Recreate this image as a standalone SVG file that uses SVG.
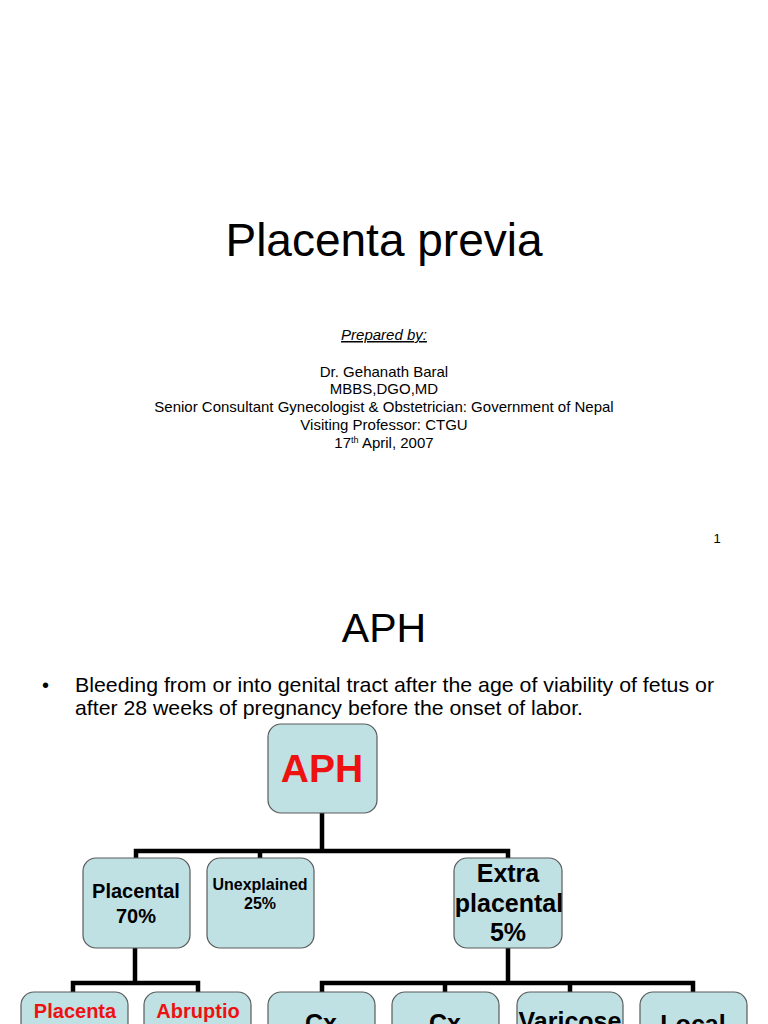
<svg xmlns="http://www.w3.org/2000/svg" width="768" height="1024" viewBox="0 0 768 1024">
<style>
text{font-family:"Liberation Sans",Arial,sans-serif;fill:#000}
.c{text-anchor:middle}
.sub{font-size:15px}
.box{fill:#bfe1e4;stroke:#5a5a5a;stroke-width:1.2}
.b{font-weight:bold}
.red{fill:#ee1111}
.conn{fill:none;stroke:#000;stroke-width:4.5;stroke-linecap:square}
</style>
<rect width="768" height="1024" fill="#fff"/>
<text class="c" x="384" y="256" font-size="46">Placenta previa</text>
<text class="c sub" x="384" y="340" font-style="italic" text-decoration="underline">Prepared by:</text>
<text class="c sub" x="384" y="377">Dr. Gehanath Baral</text>
<text class="c sub" x="384" y="394">MBBS,DGO,MD</text>
<text class="c sub" x="384" y="412">Senior Consultant Gynecologist &amp; Obstetrician: Government of Nepal</text>
<text class="c sub" x="384" y="430">Visiting Professor: CTGU</text>
<text class="c sub" x="384" y="448">17<tspan font-size="9" dy="-5">th</tspan><tspan dy="5"> April, 2007</tspan></text>
<text x="717" y="543" font-size="13" text-anchor="middle">1</text>
<text class="c" x="384" y="642" font-size="41">APH</text>
<text x="42" y="692" font-size="20">•</text>
<text x="75" y="692" font-size="21" textLength="639" lengthAdjust="spacingAndGlyphs">Bleeding from or into genital tract after the age of viability of fetus or</text>
<text x="75" y="715" font-size="21" textLength="508" lengthAdjust="spacingAndGlyphs">after 28 weeks of pregnancy before the onset of labor.</text>
<g id="connectors">
<path class="conn" d="M322 813V851M136 851H508M136 851V858M260 851V858M508 851V858"/>
<path class="conn" d="M135 948V983M73 983H198M73 983V992M198 983V992"/>
<path class="conn" d="M508 948V983M322 983H693M322 983V992M445 983V992M570 983V992M693 983V992"/>
</g>
<g id="aph"><rect class="box" x="268" y="724" width="109" height="89" rx="13"/><text class="c b red" x="322" y="782" font-size="39">APH</text></g>
<g id="placental"><rect class="box" x="83" y="858" width="107" height="90" rx="13"/><text class="c b" x="136" y="898" font-size="20">Placental</text><text class="c b" x="136" y="923" font-size="20">70%</text></g>
<g id="unexplained"><rect class="box" x="207" y="858" width="107" height="90" rx="13"/><text class="c b" x="260" y="890" font-size="16">Unexplained</text><text class="c b" x="260" y="909" font-size="16">25%</text></g>
<g id="extra"><rect class="box" x="454" y="858" width="108" height="90" rx="13"/><text class="c b" x="508" y="882" font-size="25">Extra</text><text class="c b" x="509" y="912" font-size="25">placental</text><text class="c b" x="508" y="941" font-size="25">5%</text></g>
<g id="placenta"><rect class="box" x="21" y="992" width="107" height="90" rx="13"/><text class="c b red" x="75" y="1018" font-size="20">Placenta</text></g>
<g id="abruptio"><rect class="box" x="144" y="992" width="107" height="90" rx="13"/><text class="c b red" x="198" y="1018" font-size="20">Abruptio</text></g>
<g id="cx1"><rect class="box" x="268" y="992" width="107" height="90" rx="13"/><text class="c b" x="321" y="1032" font-size="25">Cx</text></g>
<g id="cx2"><rect class="box" x="392" y="992" width="107" height="90" rx="13"/><text class="c b" x="445" y="1032" font-size="25">Cx</text></g>
<g id="varicose"><rect class="box" x="517" y="992" width="106" height="90" rx="13"/><text class="c b" x="570" y="1030" font-size="25">Varicose</text></g>
<g id="local"><rect class="box" x="640" y="992" width="107" height="90" rx="13"/><text class="c b" x="693" y="1033" font-size="25">Local</text></g>
</svg>
